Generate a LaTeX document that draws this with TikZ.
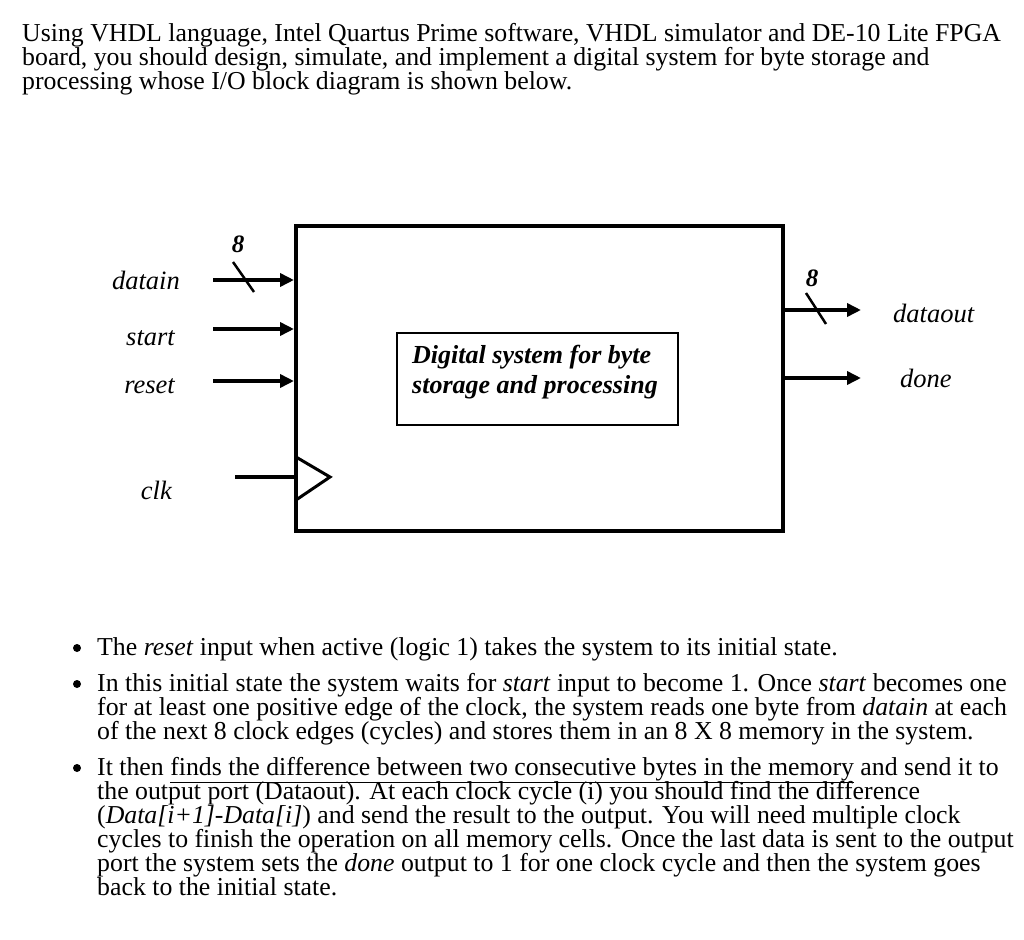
\documentclass[tikz,border=0pt]{standalone}
\usepackage{fontspec}
\setmainfont{Liberation Serif}
\usetikzlibrary{arrows.meta}
\begin{document}
\begin{tikzpicture}[x=1pt,y=-1pt,
  txt/.style={anchor=base west,inner sep=0pt,font=\fontsize{25.8}{30}\selectfont},
  lbl/.style={inner sep=0pt,font=\fontsize{26.5}{30}\selectfont\itshape},
  num/.style={inner sep=0pt,font=\fontsize{25}{30}\selectfont\bfseries\itshape},
  sig/.style={line width=4pt,-{Triangle[length=14pt,width=13pt]}},
  bul/.style={circle,fill,inner sep=0pt,minimum size=8pt}]
\useasboundingbox (0,0) rectangle (1024,939);
\node[txt] (p1) at (22,42) {Using VHDL language, Intel Quartus Prime software, VHDL simulator and DE-10 Lite FPGA};
\node[txt] (p2) at (22,66) {board, you should design, simulate, and implement a digital system for byte storage and};
\node[txt] (p3) at (22,90) {processing whose I/O block diagram is shown below.};
% main box
\draw[line width=4pt] (296,226) rectangle (783,531);
\node[draw,line width=1.2pt,minimum width=281pt,minimum height=92pt,inner sep=0pt] (core) at (537.5,379) {};
\node[anchor=west,inner sep=0pt,align=left,font=\fontsize{26}{30}\selectfont\bfseries\itshape] (ct) at (412,372) {Digital system for byte\\storage and processing};
% inputs
\coordinate (di0) at (213,280); \coordinate (di1) at (294,280);
\draw[sig] (di0) -- (di1);
\coordinate (s1a) at (233,262); \coordinate (s1b) at (254,292);
\draw[line width=2.5pt] (s1a) -- (s1b);
\node[num] (n1) at (238,244) {8};
\node[lbl,anchor=east] (ldi) at (180,280) {datain};
\coordinate (st0) at (213,329); \coordinate (st1) at (294,329);
\draw[sig] (st0) -- (st1);
\node[lbl,anchor=east] (lst) at (175,338) {start};
\coordinate (rs0) at (213,381); \coordinate (rs1) at (294,381);
\draw[sig] (rs0) -- (rs1);
\node[lbl,anchor=east] (lrs) at (175,386) {reset};
\coordinate (ck0) at (235,477); \coordinate (ck1) at (296,477);
\draw[line width=4pt] (ck0) -- (ck1);
\coordinate (t1) at (296,457); \coordinate (t2) at (330,477); \coordinate (t3) at (296,500);
\draw[line width=3pt,line join=miter] (t1) -- (t2) -- (t3);
\node[lbl,anchor=east] (lck) at (172,490) {clk};
% outputs
\coordinate (do0) at (783,310); \coordinate (do1) at (861,310);
\draw[sig] (do0) -- (do1);
\coordinate (s2a) at (806,293); \coordinate (s2b) at (826,324);
\draw[line width=2.5pt] (s2a) -- (s2b);
\node[num] (n2) at (812,278) {8};
\node[lbl,anchor=west] (ldo) at (893,313) {dataout};
\coordinate (dn0) at (783,378); \coordinate (dn1) at (861,378);
\draw[sig] (dn0) -- (dn1);
\node[lbl,anchor=west] (ldn) at (900,378) {done};
% bullets
\node[bul] (b1) at (77,648) {};
\node[txt] (l1) at (97,655) {The \textit{reset} input when active (logic 1) takes the system to its initial state.};
\node[bul] (b2) at (77,684) {};
\node[txt] (l2) at (97,691) {In this initial state the system waits for \textit{start} input to become 1. Once \textit{start} becomes one};
\node[txt] (l3) at (97,715) {for at least one positive edge of the clock, the system reads one byte from \textit{datain} at each};
\node[txt] (l4) at (97,739) {of the next 8 clock edges (cycles) and stores them in an 8 X 8 memory in the system.};
\node[bul] (b3) at (77,768) {};
\node[txt] (l5) at (97,775) {It then \underline{finds the difference between two consecutive bytes in the memory} and send it to};
\node[txt] (l6) at (97,799) {the output port (Dataout). At each clock cycle (i) you should find the difference};
\node[txt] (l7) at (97,823) {(\textit{Data[i+1]-Data[i]}) and send the result to the output. You will need multiple clock};
\node[txt] (l8) at (97,847) {cycles to finish the operation on all memory cells. Once the last data is sent to the output};
\node[txt] (l9) at (97,871) {port the system sets the \textit{done} output to 1 for one clock cycle and then the system goes};
\node[txt] (l10) at (97,895) {back to the initial state.};
\end{tikzpicture}
\end{document}
